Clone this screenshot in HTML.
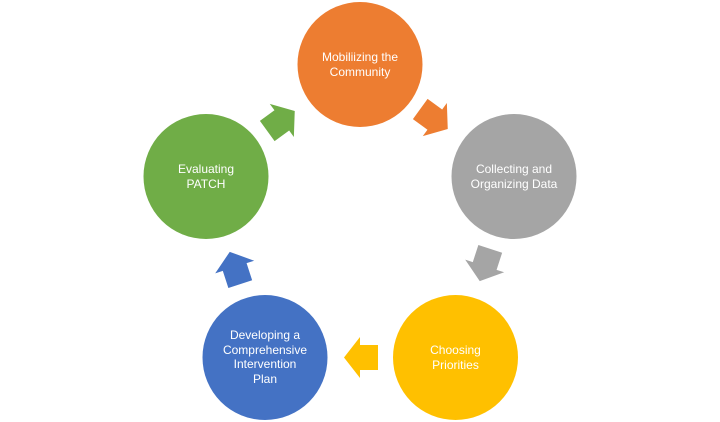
<!DOCTYPE html>
<html>
<head>
<meta charset="utf-8">
<style>
  html, body { margin: 0; padding: 0; background: #ffffff; }
  svg { display: block; }
  text { font-family: "Liberation Sans", "DejaVu Sans", sans-serif; font-size: 12px; fill: #ffffff; text-anchor: middle; }
</style>
</head>
<body>
<svg width="720" height="422" viewBox="0 0 720 422" xmlns="http://www.w3.org/2000/svg">
  <rect width="720" height="422" fill="#ffffff"/>
  <defs>
    <polygon id="arr" points="-17,-12.5 1,-12.5 1,-20.5 17,0 1,20.5 1,12.5 -17,12.5"/>
  </defs>

  <!-- Circles -->
  <circle cx="360" cy="64.5" r="62.5" fill="#ED7D31"/>
  <circle cx="514" cy="176.5" r="62.5" fill="#A5A5A5"/>
  <circle cx="455.5" cy="357.5" r="62.5" fill="#FFC000"/>
  <circle cx="265" cy="357.5" r="62.5" fill="#4472C4"/>
  <circle cx="206" cy="176.5" r="62.5" fill="#70AD47"/>

  <!-- Arrows -->
  <use href="#arr" fill="#ED7D31" transform="translate(434,119) rotate(36)"/>
  <use href="#arr" fill="#A5A5A5" transform="translate(485,265) rotate(108)"/>
  <use href="#arr" fill="#FFC000" transform="translate(361,357.5) rotate(180)"/>
  <use href="#arr" fill="#4472C4" transform="translate(235,268) rotate(252)"/>
  <use href="#arr" fill="#70AD47" transform="translate(281,121) rotate(-36)"/>

  <!-- Labels -->
  <text x="360" y="61">Mobiliizing the</text>
  <text x="360" y="76">Community</text>

  <text x="514" y="173">Collecting and</text>
  <text x="514" y="188">Organizing Data</text>

  <text x="455.5" y="354">Choosing</text>
  <text x="455.5" y="369">Priorities</text>

  <text x="265" y="339">Developing a</text>
  <text x="265" y="354">Comprehensive</text>
  <text x="265" y="368">Intervention</text>
  <text x="265" y="383">Plan</text>

  <text x="206" y="173">Evaluating</text>
  <text x="206" y="188">PATCH</text>
</svg>
</body>
</html>
